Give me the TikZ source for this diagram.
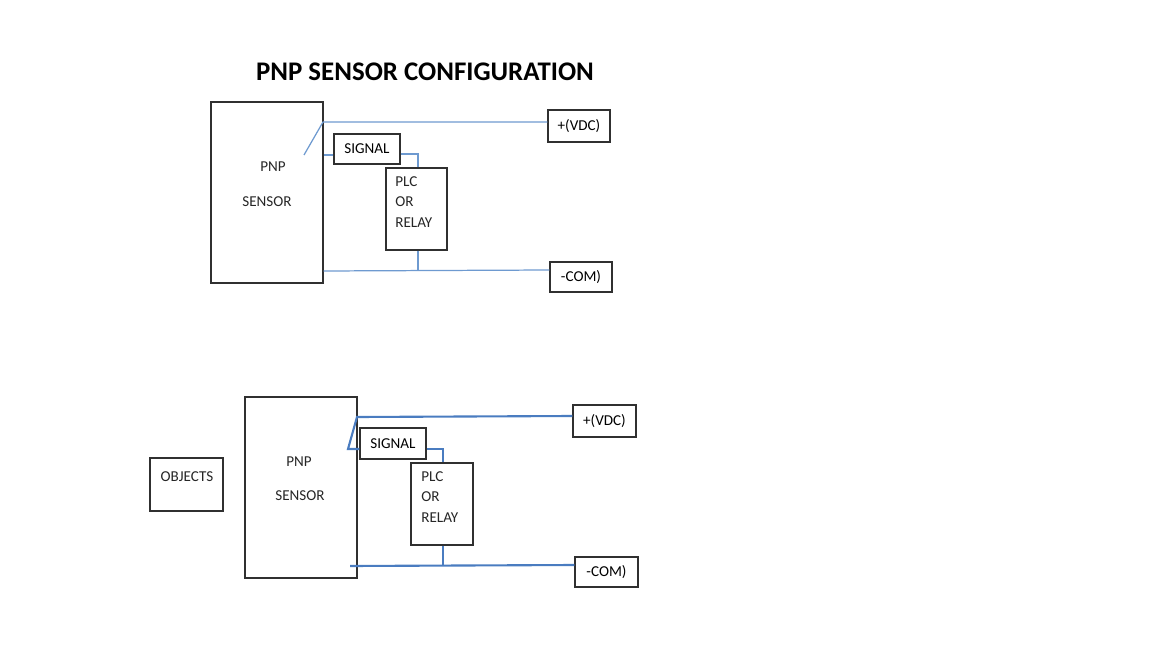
\documentclass[tikz,border=0pt]{standalone}
\usepackage{fontspec}
\setmainfont{Carlito}
\definecolor{W1}{HTML}{6E9AD0}
\definecolor{W2}{HTML}{4A7CC0}
\definecolor{BX}{HTML}{303030}
\tikzset{
  box/.style={draw=BX, line width=0.6pt, inner sep=0pt, font=\fontsize{8.6}{10}\selectfont},
  txt/.style={inner sep=0pt, font=\fontsize{8.6}{10}\selectfont, text=black!85},
  wire/.style={draw=W1, line width=0.7pt},
  wireb/.style={draw=W2, line width=1.2pt}
}
\begin{document}
\begin{tikzpicture}[x=0.02cm, y=-0.02cm]
\useasboundingbox (0,0) rectangle (1176,662);
\node[font=\bfseries\fontsize{15.3}{18}\selectfont] (title) at (425,72) {PNP SENSOR CONFIGURATION};
% upper circuit
\node[box, minimum width=2.24cm, minimum height=3.62cm] (sensA) at (267,192.5) {};
\node[txt] (pnpA) at (273,167) {PNP};
\node[txt] (senA) at (267,202) {SENSOR};
\node[box, minimum width=1.32cm, minimum height=0.6cm] (sigA) at (367,149) {SIGNAL};
\node[box, minimum width=1.22cm, minimum height=1.64cm] (plcA) at (416.5,209) {};
\node[txt, anchor=west, align=left, font=\fontsize{8.6}{10}\selectfont] (plctA) at (395,202) {PLC\\[0.06cm]OR\\[0.06cm]RELAY};
\node[box, minimum width=1.24cm, minimum height=0.64cm] (vdcA) at (579,126) {+(VDC)};
\node[box, minimum width=1.24cm, minimum height=0.6cm] (comA) at (581,277) {-COM)};
\coordinate (tipA) at (304,155);
\coordinate (topA) at (323,122);
\coordinate (botA) at (418,270);
\draw[wire] (tipA) -- (topA) -- (vdcA.west |- topA);
\draw[wire] (sigA.west |- 0,155) -- (sensA.east |- 0,155);
\draw[wire] (sigA.east |- 0,154) -| (plcA.north -| botA);
\draw[wire] (plcA.south -| botA) -- (botA);
\draw[wire] (sensA.east |- 0,271) -- (comA.west |- 0,270);
% lower circuit
\node[box, minimum width=1.46cm, minimum height=1.06cm] (objB) at (186.5,484.5) {};
\node[txt] (objtB) at (187,477) {OBJECTS};
\node[box, minimum width=2.24cm, minimum height=3.62cm] (sensB) at (301,487.5) {};
\node[txt] (pnpB) at (299,462) {PNP};
\node[txt] (senB) at (300,496) {SENSOR};
\node[box, minimum width=1.32cm, minimum height=0.62cm] (sigB) at (393,443.5) {SIGNAL};
\node[box, minimum width=1.24cm, minimum height=1.64cm] (plcB) at (442,504) {};
\node[txt, anchor=west, align=left, font=\fontsize{8.6}{10}\selectfont] (plctB) at (421,497) {PLC\\[0.06cm]OR\\[0.06cm]RELAY};
\node[box, minimum width=1.26cm, minimum height=0.64cm] (vdcB) at (604.5,421) {+(VDC)};
\node[box, minimum width=1.26cm, minimum height=0.6cm] (comB) at (606.5,572) {-COM)};
\coordinate (topB) at (357,417);
\coordinate (kneeB) at (348,449);
\coordinate (tipB) at (350,566);
\coordinate (botB) at (443,565);
\draw[wireb] (vdcB.west |- 0,416) -- (topB) -- (kneeB) -- (sigB.west |- kneeB);
\draw[wireb] (sigB.east |- kneeB) -| (plcB.north -| botB);
\draw[wireb] (plcB.south -| botB) -- (botB);
\draw[wireb] (tipB) -- (comB.west |- 0,565);
\end{tikzpicture}
\end{document}
